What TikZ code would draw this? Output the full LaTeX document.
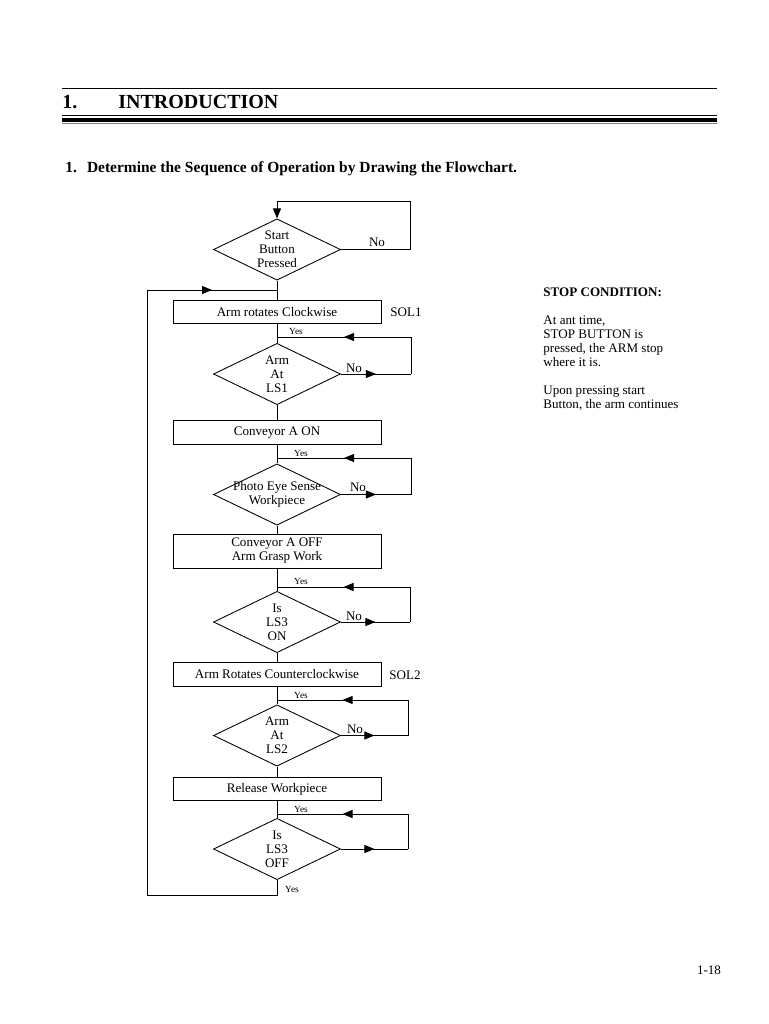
\documentclass[tikz,border=0pt]{standalone}
\usepackage{fontspec}
\setmainfont{Liberation Serif}
\usetikzlibrary{shapes.geometric,arrows.meta,decorations.markings}

\newcommand{\flowfont}{\fontsize{9.8pt}{10.5pt}\selectfont}

\tikzset{
  process/.style={draw, rectangle, minimum width=156pt, minimum height=17.5pt, inner sep=0pt, font=\flowfont},
  decision/.style={draw, diamond, minimum width=95.25pt, minimum height=46pt, inner sep=0pt},
  dtext/.style={align=center, font=\flowfont, inner sep=0pt},
  lbl/.style={font=\flowfont, inner sep=0pt},
  yeslbl/.style={font=\fontsize{7pt}{7.5pt}\selectfont, inner sep=0pt},
  tip/.style={-{Triangle[length=7.5pt,width=6pt]}},
  midarrow/.style={decoration={markings, mark=at position 0.5 with {\arrow{Triangle[length=7.5pt,width=6pt]}}}, postaction={decorate}},
}

\begin{document}
\begin{tikzpicture}[x=0.75pt,y=0.75pt,yscale=-1,xscale=1,line width=0.65pt]
\useasboundingbox (0,0) rectangle (768,1024);

%Header rules
\draw [line width=1.3pt] (62,88.5) -- (717,88.5) ;
\draw [line width=0.75pt] (62,115.5) -- (717,115.5) ;
\fill (62,117.5) rectangle (717,121.5) ;
\draw [gray, line width=0.75pt] (62,123) -- (717,123) ;

% Text Node
\node [anchor=west, inner sep=0pt, font=\fontsize{15pt}{17pt}\selectfont\bfseries] (secnum) at (62,102) {1.};
% Text Node
\node [anchor=west, inner sep=0pt, font=\fontsize{15pt}{17pt}\selectfont\bfseries] (sectitle) at (118,102) {INTRODUCTION};
% Text Node
\node [anchor=west, inner sep=0pt, font=\fontsize{11.6pt}{13pt}\selectfont\bfseries] (subtitle) at (65,169) {1.\hspace{7.5pt}Determine the Sequence of Operation by Drawing the Flowchart.};

%Flowchart shapes
\node [decision] (d1) at (277,249.5) {};
\node [dtext] (t1) at (d1) {Start\\Button\\Pressed};
\node [process] (b1) at (277,312) {Arm rotates Clockwise};
\node [decision] (d2) at (277,374) {};
\node [dtext] (t2) at (d2) {Arm\\At\\LS1};
\node [process] (b2) at (277,432.5) {Conveyor A ON};
\node [decision] (d3) at (277,494.5) {};
\node [dtext] (t3) at (d3) {Photo Eye Sense\\Workpiece};
\node [process, minimum height=25.5pt, align=center] (b3) at (277,551) {Conveyor A OFF\\Arm Grasp Work};
\node [decision] (d4) at (277,622) {};
\node [dtext] (t4) at (d4) {Is\\LS3\\ON};
\node [process] (b4) at (277,674.5) {Arm Rotates Counterclockwise};
\node [decision] (d5) at (277,735.5) {};
\node [dtext] (t5) at (d5) {Arm\\At\\LS2};
\node [process] (b5) at (277,789) {Release Workpiece};
\node [decision] (d6) at (277,849) {};
\node [dtext] (t6) at (d6) {Is\\LS3\\OFF};

%Loop corners
\coordinate (c1) at (410,201) ;
\coordinate (c2) at (411,337) ;
\coordinate (c3) at (411,458) ;
\coordinate (c4) at (410,587) ;
\coordinate (c5) at (408,700) ;
\coordinate (c6) at (408,814) ;
\coordinate (j1) at (277,290) ;
\coordinate (r1) at (277,895) ;
\coordinate (r2) at (147,895) ;
\coordinate (r3) at (147,290) ;

%Main line
\draw (d1.south) -- (b1.north) ;
\draw (b1.south) -- (d2.north) ;
\draw (d2.south) -- (b2.north) ;
\draw (b2.south) -- (d3.north) ;
\draw (d3.south) -- (b3.north) ;
\draw (b3.south) -- (d4.north) ;
\draw (d4.south) -- (b4.north) ;
\draw (b4.south) -- (d5.north) ;
\draw (d5.south) -- (b5.north) ;
\draw (b5.south) -- (d6.north) ;

%Start loop
\draw [tip] (d1.east) -| (c1) -| (d1.north) ;

%Wait loops
\foreach \i in {2,...,6}{
  \draw [midarrow] (d\i.east) -- (d\i.east -| c\i) ;
  \draw (d\i.east -| c\i) -- (c\i) ;
  \draw [midarrow] (c\i) -- (d\i.north |- c\i) ;
}

%Return line
\draw (d6.south) -- (r1) -- (r2) -- (r3) ;
\draw [midarrow] (r3) -- (j1) ;

% Text Node
\node [lbl] (no1) at (377,242) {No};
\node [lbl] (no2) at (354,368) {No};
\node [lbl] (no3) at (358,487) {No};
\node [lbl] (no4) at (354,616) {No};
\node [lbl] (no5) at (355,729) {No};
% Text Node
\node [yeslbl] (yes2) at (296,331) {Yes};
\node [yeslbl] (yes3) at (301,453) {Yes};
\node [yeslbl] (yes4) at (301,581) {Yes};
\node [yeslbl] (yes5) at (301,695) {Yes};
\node [yeslbl] (yes6) at (301,809) {Yes};
\node [yeslbl] (yes7) at (292,889) {Yes};
% Text Node
\node [lbl] (sol1) at (406,312) {SOL1};
\node [lbl] (sol2) at (405,675) {SOL2};

% Text Node
\node [anchor=north west, align=left, inner sep=0pt, font=\flowfont] (stop) at (543,287) {\textbf{STOP CONDITION:}\\[10.5pt]At ant time,\\STOP BUTTON is\\pressed, the ARM stop\\where it is.\\[10.5pt]Upon pressing start\\Button, the arm continues};

% Text Node
\node [lbl] (page) at (709,970) {1-18};

\end{tikzpicture}
\end{document}
